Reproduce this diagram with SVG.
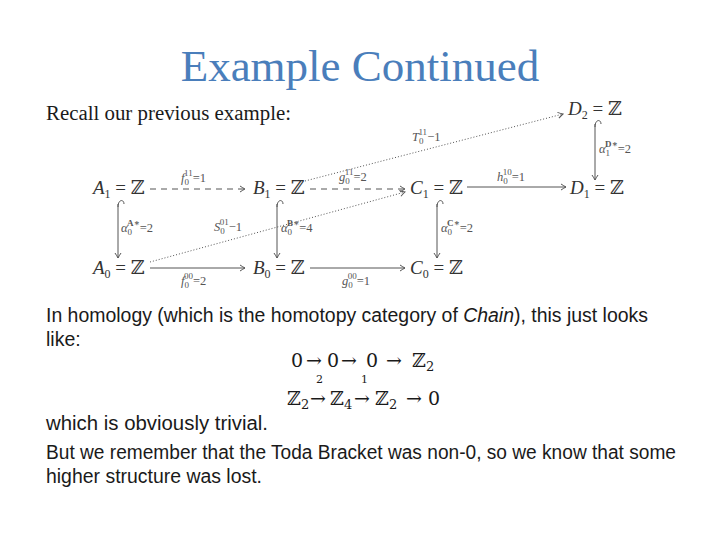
<svg xmlns="http://www.w3.org/2000/svg" width="720" height="540" viewBox="0 0 720 540">
<style>
.title{font-family:"Liberation Serif","DejaVu Serif",serif;font-size:45px;fill:#4a7ebb}
.body{font-family:"Liberation Sans","Open Sans",sans-serif;font-size:19.5px;fill:#1a1a1a}
.rec{font-family:"Liberation Serif",serif;font-size:20px;fill:#1a1a1a}
.node{font-family:"Liberation Serif","DejaVu Serif",serif;font-size:19px;fill:#333}
.lab{font-family:"Liberation Serif","DejaVu Serif",serif;font-size:12.5px;fill:#555}
.it{font-style:italic}
.math{font-family:"DejaVu Serif","Liberation Serif",serif;font-size:19px;fill:#1a1a1a}
.sm{font-family:"DejaVu Serif","Liberation Serif",serif;font-size:11px;fill:#1a1a1a}
.ar{fill:none;stroke:#555;stroke-width:1}
.dash{stroke-dasharray:6 5}
.dot{stroke-dasharray:1 2}
</style>
<defs>
<marker id="ah" markerWidth="8" markerHeight="8" refX="6" refY="4" orient="auto" markerUnits="userSpaceOnUse">
<path d="M1,1 Q4,3 6,4 Q4,5 1,7" fill="none" stroke="#555" stroke-width="1"/>
</marker>
</defs>
<rect width="720" height="540" fill="#fff"/>
<text class="title" x="360" y="81" text-anchor="middle">Example Continued</text>
<text class="rec" x="46" y="120" textLength="245" lengthAdjust="spacingAndGlyphs">Recall our previous example:</text>

<g id="nodes">
<g id="A1"><text class="node" x="93" y="194"><tspan class="it">A</tspan><tspan font-size="12" dy="4">1</tspan><tspan dy="-4"> = ℤ</tspan></text></g>
<g id="B1"><text class="node" x="253" y="194"><tspan class="it">B</tspan><tspan font-size="12" dy="4">1</tspan><tspan dy="-4"> = ℤ</tspan></text></g>
<g id="C1"><text class="node" x="410" y="194"><tspan class="it">C</tspan><tspan font-size="12" dy="4">1</tspan><tspan dy="-4"> = ℤ</tspan></text></g>
<g id="D1"><text class="node" x="570" y="194"><tspan class="it">D</tspan><tspan font-size="12" dy="4">1</tspan><tspan dy="-4"> = ℤ</tspan></text></g>
<g id="D2"><text class="node" x="568" y="115"><tspan class="it">D</tspan><tspan font-size="12" dy="4">2</tspan><tspan dy="-4"> = ℤ</tspan></text></g>
<g id="A0"><text class="node" x="93" y="274"><tspan class="it">A</tspan><tspan font-size="12" dy="4">0</tspan><tspan dy="-4"> = ℤ</tspan></text></g>
<g id="B0"><text class="node" x="253" y="274"><tspan class="it">B</tspan><tspan font-size="12" dy="4">0</tspan><tspan dy="-4"> = ℤ</tspan></text></g>
<g id="C0"><text class="node" x="410" y="274"><tspan class="it">C</tspan><tspan font-size="12" dy="4">0</tspan><tspan dy="-4"> = ℤ</tspan></text></g>
</g>

<g id="connectors">
<path class="ar dash" d="M150,189 H245" marker-end="url(#ah)"/>
<path class="ar dash" d="M310,189 H405" marker-end="url(#ah)"/>
<path class="ar" d="M467,187 H566" marker-end="url(#ah)"/>
<path class="ar" d="M150,268 H245" marker-end="url(#ah)"/>
<path class="ar" d="M310,268 H405" marker-end="url(#ah)"/>
<path class="ar" d="M118,207 C118,199 124,199 124,204 M118,204 V258" marker-end="url(#ah)"/>
<path class="ar" d="M277,207 C277,199 283,199 283,204 M277,204 V258" marker-end="url(#ah)"/>
<path class="ar" d="M437,207 C437,199 443,199 443,204 M437,204 V258" marker-end="url(#ah)"/>
<path class="ar" d="M595,127 C595,119 601,119 601,124 M595,124 V180" marker-end="url(#ah)"/>
<path class="ar dot" d="M150,262 L405,192" marker-end="url(#ah)"/>
<path class="ar dot" d="M305,181 L563,114" marker-end="url(#ah)"/>
</g>

<g id="labels">
<text class="lab" x="181" y="182"><tspan class="it">f</tspan><tspan font-size="9" dy="3">0</tspan><tspan font-size="9" dx="-5" dy="-9">11</tspan><tspan dy="6">=1</tspan></text>
<text class="lab" x="339" y="181"><tspan class="it">g</tspan><tspan font-size="9" dy="3">0</tspan><tspan font-size="9" dx="-5" dy="-9">11</tspan><tspan dy="6">=2</tspan></text>
<text class="lab" x="497" y="181"><tspan class="it">h</tspan><tspan font-size="9" dy="3">0</tspan><tspan font-size="9" dx="-5" dy="-9">10</tspan><tspan dy="6">=1</tspan></text>
<text class="lab" x="412" y="141"><tspan class="it">T</tspan><tspan font-size="9" dy="3">0</tspan><tspan font-size="9" dx="-5" dy="-9">11</tspan><tspan dy="6">−1</tspan></text>
<text class="lab" x="599" y="153"><tspan class="it">α</tspan><tspan font-size="9" dy="3">1</tspan><tspan font-size="9" dx="-5" dy="-9" font-weight="bold">D∗</tspan><tspan dy="6">=2</tspan></text>
<text class="lab" x="121" y="232"><tspan class="it">α</tspan><tspan font-size="9" dy="3">0</tspan><tspan font-size="9" dx="-5" dy="-9" font-weight="bold">A∗</tspan><tspan dy="6">=2</tspan></text>
<text class="lab" x="214" y="231"><tspan class="it">S</tspan><tspan font-size="9" dy="3">0</tspan><tspan font-size="9" dx="-5" dy="-9">01</tspan><tspan dy="6">−1</tspan></text>
<text class="lab" x="281" y="232"><tspan class="it">α</tspan><tspan font-size="9" dy="3">0</tspan><tspan font-size="9" dx="-5" dy="-9" font-weight="bold">B∗</tspan><tspan dy="6">=4</tspan></text>
<text class="lab" x="441" y="232"><tspan class="it">α</tspan><tspan font-size="9" dy="3">0</tspan><tspan font-size="9" dx="-5" dy="-9" font-weight="bold">C∗</tspan><tspan dy="6">=2</tspan></text>
<text class="lab" x="181" y="285"><tspan class="it">f</tspan><tspan font-size="9" dy="3">0</tspan><tspan font-size="9" dx="-5" dy="-9">00</tspan><tspan dy="6">=2</tspan></text>
<text class="lab" x="342" y="285"><tspan class="it">g</tspan><tspan font-size="9" dy="3">0</tspan><tspan font-size="9" dx="-5" dy="-9">00</tspan><tspan dy="6">=1</tspan></text>
</g>

<text class="body" x="46" y="322" textLength="602" lengthAdjust="spacingAndGlyphs">In homology (which is the homotopy category of <tspan font-style="italic">Chain</tspan>), this just looks</text>
<text class="body" x="46" y="346">like:</text>
<text class="math" y="367"><tspan x="291">0</tspan><tspan x="306">→</tspan><tspan x="327">0</tspan><tspan x="341">→</tspan><tspan x="366">0</tspan><tspan x="386">→</tspan><tspan x="412">ℤ</tspan><tspan font-size="13" dy="4">2</tspan></text>
<text class="math" y="405"><tspan x="287">ℤ</tspan><tspan font-size="13" dy="4">2</tspan><tspan x="310" dy="-4">→</tspan><tspan x="330">ℤ</tspan><tspan font-size="13" dy="4">4</tspan><tspan x="354" dy="-4">→</tspan><tspan x="375">ℤ</tspan><tspan font-size="13" dy="4">2</tspan><tspan x="406" dy="-4">→</tspan><tspan x="428">0</tspan></text>
<text class="sm" x="316" y="383">2</text>
<text class="sm" x="361" y="383">1</text>
<text class="body" x="46" y="430" textLength="222" lengthAdjust="spacingAndGlyphs">which  is obviously trivial.</text>
<text class="body" x="46" y="459" textLength="630" lengthAdjust="spacingAndGlyphs">But we remember that the Toda Bracket was non-0, so we know that some</text>
<text class="body" x="46" y="483" textLength="216" lengthAdjust="spacingAndGlyphs">higher structure was lost.</text>
</svg>
